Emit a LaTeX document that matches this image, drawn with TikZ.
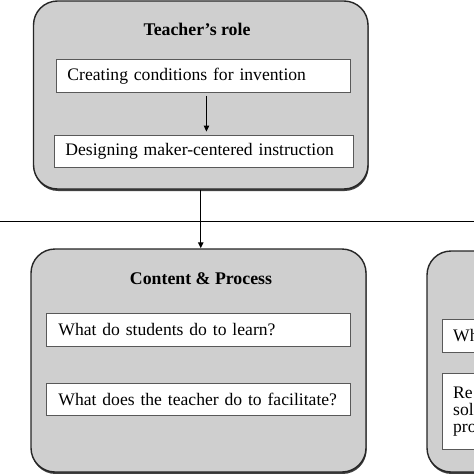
\documentclass[tikz,border=0pt]{standalone}
\usepackage{fontspec}
\setmainfont{Liberation Serif}
\usetikzlibrary{arrows.meta,shadows}
\newcommand{\oneline}[1]{\makebox[\linewidth][l]{#1}}
\begin{document}
\begin{tikzpicture}[x=1pt,y=-1pt,
  outerbox/.style={draw=black!85, line width=1.4pt, fill=gray!38, rounded corners=24pt,
    drop shadow={shadow xshift=0.6pt, shadow yshift=-2pt, fill=black!75, opacity=1}},
  titletext/.style={font=\fontsize{17.8}{21}\selectfont\bfseries, inner sep=0pt},
  innerbox/.style={draw=black!65, line width=0.9pt, fill=white, anchor=west, align=left,
    inner xsep=11pt, inner ysep=0pt, font=\fontsize{17.6}{16.8}\selectfont},
  conn/.style={line width=1.2pt, draw=black},
  arr/.style={conn, -{Triangle[length=6pt,width=5.5pt]}}
]
\useasboundingbox (0,0) rectangle (474,474);
\fill[white] (0,0) rectangle (474,474);
\clip (0,0) rectangle (474,474);

% Teacher's role
\node[outerbox, minimum width=334.5pt, minimum height=188pt] (teacher) at (200.75,95) {};
\node[titletext] (teachertitle) at (197,29) {Teacher’s role};
\node[innerbox, text width=272pt, minimum height=33pt] (create) at (56,76) {\oneline{Creating conditions for invention}};
\node[innerbox, text width=277pt, minimum height=32pt] (design) at (54,151.5) {\oneline{Designing maker-centered instruction}};
\draw[arr, line width=0.9pt, shorten <=3pt, shorten >=3.5pt] ([xshift=3pt]create.south) -- ([xshift=3pt]create.south |- design.north);

% bus line
\coordinate (busL) at (0,221);
\coordinate (busR) at (474,221);
\draw[conn, line width=1pt] (busL) -- (busR);

% Content & Process
\node[outerbox, minimum width=335pt, minimum height=223pt] (content) at (198.5,360.5) {};
\node[titletext] (contenttitle) at (201,279) {Content \& Process};
\node[innerbox, text width=280pt, minimum height=33pt, inner xsep=12pt] (learn) at (46,330) {\oneline{What do students do to learn?}};
\node[innerbox, text width=280pt, minimum height=32pt, inner xsep=12pt] (facil) at (46,399.5) {\oneline{What does the teacher do to facilitate?}};

\draw[arr] (teacher.south) -- (teacher.south |- content.north);

% right box (cropped at the picture's edge)
\node[outerbox, minimum width=335pt, minimum height=221pt] (third) at (594.5,361.5) {};
\node[innerbox, text width=278pt, minimum height=33pt] (wh) at (441.7,336) {Wh};
\node[innerbox, text width=278pt, minimum height=76pt] (re) at (441.7,411.5) {Re\\sol\\pro};
\end{tikzpicture}
\end{document}
